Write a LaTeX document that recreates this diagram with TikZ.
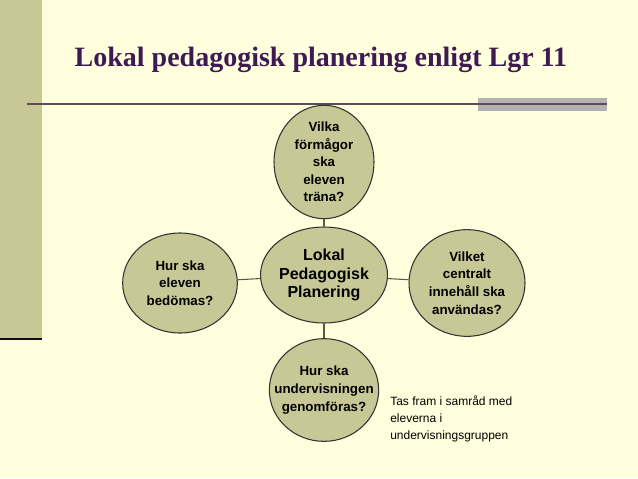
\documentclass[tikz,border=0pt]{standalone}
\usepackage{fontspec}
\setmainfont{Liberation Serif}
\setsansfont{Liberation Sans}
\usetikzlibrary{shapes.geometric}
\definecolor{bg}{HTML}{FFFFDD}
\definecolor{bar}{HTML}{C8C896}
\definecolor{ell}{HTML}{C8C896}
\definecolor{dk}{HTML}{5F4B5A}
\definecolor{tit}{HTML}{3E1A52}
\begin{document}
\begin{tikzpicture}[x=0.75pt,y=-0.75pt,
  bub/.style={ellipse,draw=black!80,fill=ell,line width=0.8pt,inner sep=0pt,align=center,font=\sffamily\bfseries\fontsize{10}{13.2}\selectfont},
  con/.style={draw=black!55!ell,line width=0.8pt}]
\fill[bg] (0,0) rectangle (638,478);
\useasboundingbox (0,0) rectangle (638,478);
\fill[bar] (0,0) rectangle (42,339);
\draw[line width=2pt,color=black!70!tit] (0,339) -- (42,339);
\fill[black!30] (478,98) rectangle (607,111);
\draw[line width=2.2pt,dk] (27,104) -- (607,104);
\node[anchor=west,font=\bfseries\fontsize{21}{24}\selectfont,text=tit] (t) at (70,60) {Lokal pedagogisk planering enligt Lgr 11};
\node[bub,minimum width=75pt,minimum height=83pt] (top) at (324,162) {Vilka\\förmågor\\ska\\eleven\\träna?};
\node[bub,minimum width=83pt,minimum height=72pt,font=\sffamily\bfseries\fontsize{12}{14}\selectfont] (c) at (324,275) {Lokal\\Pedagogisk\\Planering};
\node[bub,minimum width=86pt,minimum height=75pt] (l) at (180,283) {Hur ska\\eleven\\bedömas?};
\node[bub,minimum width=87pt,minimum height=80pt] (r) at (467,283) {Vilket\\centralt\\innehåll ska\\användas?};
\node[bub,inner xsep=-10pt,minimum width=82pt,minimum height=77pt] (b) at (324,390) {Hur ska\\undervisningen\\genomföras?};
\draw[con] (c) -- (top);
\draw[con] (c) -- (l);
\draw[con] (c) -- (r);
\draw[con] (c) -- (b);
\node[anchor=north west,inner sep=0pt,align=left,font=\sffamily\fontsize{9}{12.5}\selectfont] (n) at (390,396) {Tas fram i samråd med\\eleverna i\\undervisningsgruppen};
\end{tikzpicture}
\end{document}
